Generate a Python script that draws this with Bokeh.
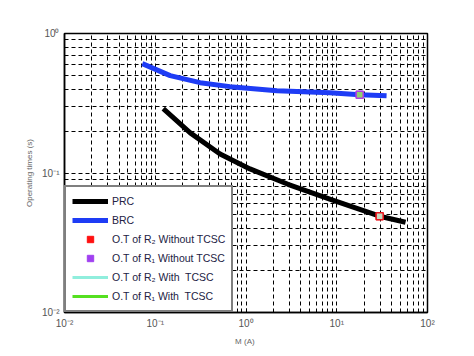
from bokeh.plotting import figure
from bokeh.models import (Legend, LegendItem, CustomJSTickFormatter, FixedTicker, Range1d)
from bokeh.embed import file_html
from bokeh.resources import INLINE

# PRC curve (current A, operating time s)
prc_x = [0.1225, 0.243, 0.518, 1.106, 2.90, 8.37, 29.7, 57.3]
prc_y = [0.289, 0.194, 0.137, 0.107, 0.083, 0.065, 0.049, 0.0444]
# BRC curve
brc_x = [0.072, 0.146, 0.312, 0.667, 2.19, 8.37, 17.9, 35.4]
brc_y = [0.608, 0.499, 0.444, 0.416, 0.389, 0.376, 0.364, 0.358]
# operating points without TCSC
r2_x = [29.7]
r2_y = [0.049]
r1_x = [17.9]
r1_y = [0.364]
# operating points with TCSC (coincide with the above at this scale)
r2_tcsc_x = [29.7, 29.7]
r2_tcsc_y = [0.049, 0.049]
r1_tcsc_x = [17.9, 17.9]
r1_tcsc_y = [0.364, 0.364]

# axis decades
x_decades = [-2, -1, 0, 1, 2]
y_decades = [-2, -1, 0]

labels = ["PRC", "BRC", "O.T of R\u2082 Without TCSC", "O.T of R\u2081 Without TCSC",
          "O.T of R\u2082 With  TCSC", "O.T of R\u2081 With  TCSC"]

FONT = "Liberation Sans"


def log_ticker(decades):
    major = [10.0 ** e for e in decades]
    minor = [m * 10.0 ** e for e in decades[:-1] for m in range(2, 10)]
    return FixedTicker(ticks=major, minor_ticks=minor)


p = figure(width=474, height=356, x_axis_type="log", y_axis_type="log",
           x_range=Range1d(10.0 ** x_decades[0], 10.0 ** x_decades[-1]),
           y_range=Range1d(10.0 ** y_decades[0], 10.0 ** y_decades[-1]),
           output_backend="svg", toolbar_location=None,
           min_border_left=64, min_border_right=47, min_border_top=33, min_border_bottom=44)
p.frame_width = 363
p.frame_height = 279
p.outline_line_color = "black"
p.outline_line_width = 1.5
p.background_fill_color = "white"

p.xaxis[0].ticker = log_ticker(x_decades)
p.yaxis[0].ticker = log_ticker(y_decades)
for ax in (p.xaxis[0], p.yaxis[0]):
    ax.formatter = CustomJSTickFormatter(code="""
        const e = Math.round(Math.log10(tick));
        const sup = {'-':'\u207b','0':'\u2070','1':'\u00b9','2':'\u00b2','3':'\u00b3'};
        return '10' + String(e).split('').map(c => sup[c]).join('');
    """)
    ax.major_tick_in = 4
    ax.major_tick_out = 0
    ax.minor_tick_in = 2
    ax.minor_tick_out = 0
    ax.axis_line_color = "black"
    ax.axis_line_width = 1.5
    ax.major_label_text_font = FONT
    ax.major_label_text_font_size = "10px"
    ax.major_label_text_color = "#555555"
    ax.axis_label_text_font = FONT
    ax.axis_label_text_font_size = "8px"
    ax.axis_label_text_font_style = "normal"
    ax.axis_label_text_color = "#666666"

p.xaxis.axis_label = "M  (A)"
p.yaxis.axis_label = "Operating times (s)"

for g in (p.xgrid[0], p.ygrid[0]):
    g.grid_line_color = "black"
    g.grid_line_dash = "4 3"
    g.grid_line_width = 1
    g.minor_grid_line_color = "black"
    g.minor_grid_line_dash = "4 3"
    g.minor_grid_line_width = 1

r_prc = p.line(prc_x, prc_y, line_color="black", line_width=5, line_join="round")
r_brc = p.line(brc_x, brc_y, line_color="#1e3cf5", line_width=5, line_join="round")
# legend markers (filled) sit underneath the outlined markers
leg_r2 = p.scatter(r2_x, r2_y, marker="square", size=7, line_color="#ff1010", fill_color="#ff1010")
leg_r1 = p.scatter(r1_x, r1_y, marker="square", size=7, line_color="#a040f0", fill_color="#a040f0")
r_c2 = p.line(r2_tcsc_x, r2_tcsc_y, line_color="#90eedd", line_width=3, line_cap="butt")
r_c1 = p.line(r1_tcsc_x, r1_tcsc_y, line_color="#55e020", line_width=3, line_cap="butt")
p.scatter(r2_x, r2_y, marker="square", size=7, line_color="#e8141c", line_width=1.5,
          fill_color="#c8d8c0")
p.scatter(r1_x, r1_y, marker="square", size=7, line_color="#b040e0", line_width=1.5,
          fill_color="#90d070")

legend = Legend(items=[
    LegendItem(label=labels[0], renderers=[r_prc]),
    LegendItem(label=labels[1], renderers=[r_brc]),
    LegendItem(label=labels[2], renderers=[leg_r2], index=0),
    LegendItem(label=labels[3], renderers=[leg_r1], index=0),
    LegendItem(label=labels[4], renderers=[r_c2], index=0),
    LegendItem(label=labels[5], renderers=[r_c1], index=0),
], location="bottom_left")
legend.margin = 0
legend.padding = 6
legend.spacing = 3
legend.glyph_width = 36
legend.glyph_height = 16
legend.label_standoff = 4
legend.label_height = 16
legend.label_text_font = FONT
legend.label_text_font_size = "10.5px"
legend.label_text_color = "#222244"
legend.border_line_color = "black"
legend.border_line_width = 2
legend.background_fill_alpha = 1
p.add_layout(legend)

open("out.html", "w").write(file_html(p, INLINE))
